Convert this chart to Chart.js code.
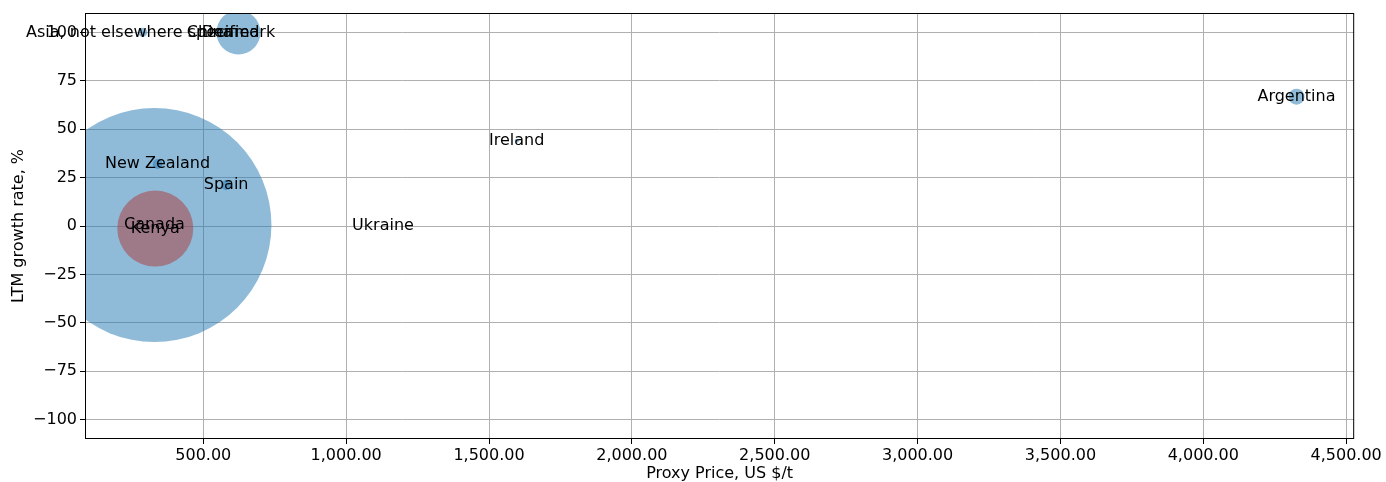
<!DOCTYPE html>
<html>
<head>
<meta charset="utf-8">
<script src="https://cdn.jsdelivr.net/npm/chart.js@4/dist/chart.umd.min.js"></script>
<style>
  html, body { margin: 0; padding: 0; background: #fff; }
  #wrap { width: 1386px; height: 482px; }
</style>
</head>
<body>
<div id="wrap"><canvas id="myChart"></canvas></div>
<script>
// data
const countries = ['Canada', 'Kenya', 'Denmark', 'China', 'Asia, not elsewhere specified',
                   'New Zealand', 'Spain', 'Ireland', 'Ukraine', 'Argentina'];
const prices = [329, 332, 623, 522, 288, 340, 580, 1597, 1129, 4326];     // US $/t
const growth = [0.5, -1.3, 100, 100, 100, 32, 21, 44, 0, 66.8];           // LTM growth, %
const volumes = [10000, 1055, 354, 0, 15, 18, 18, 3, 0, 47];              // relative trade volume
const xTicks = [500, 1000, 1500, 2000, 2500, 3000, 3500, 4000, 4500];
const yTicks = [-100, -75, -50, -25, 0, 25, 50, 75, 100];

const BLUE = 'rgba(31,119,180,0.5)';
const RED = 'rgba(173,57,57,0.5)';
const FONT = { family: '"DejaVu Sans", sans-serif', size: 16, lineHeight: 1 };

function bubbleRadius(v) {
  return 1.17 * Math.sqrt(v);
}

const points = countries.map((c, i) => ({ x: prices[i], y: growth[i], r: bubbleRadius(volumes[i]) }));
const colors = countries.map(c => c === 'Kenya' ? RED : BLUE);

// country names on the bubbles + black frame round the plot
const labelPlugin = {
  id: 'labels',
  afterDatasetsDraw(chart) {
    const ctx = chart.ctx;
    const xs = chart.scales.x, ys = chart.scales.y;
    const a = chart.chartArea;
    ctx.save();
    ctx.strokeStyle = '#000';
    ctx.lineWidth = 1;
    ctx.strokeRect(a.left + 0.5, a.top + 0.5, a.right - a.left - 1, a.bottom - a.top - 1);
    ctx.font = '16px "DejaVu Sans", sans-serif';
    ctx.fillStyle = '#000';
    ctx.textAlign = 'center';
    ctx.textBaseline = 'middle';
    countries.forEach((c, i) => {
      ctx.fillText(c, xs.getPixelForValue(prices[i]), ys.getPixelForValue(growth[i]));
    });
    ctx.restore();
  }
};

const ctx = document.getElementById('myChart');
new Chart(ctx, {
  type: 'bubble',
  data: {
    datasets: [{
      data: points,
      backgroundColor: colors,
      borderWidth: 0,
      clip: 0
    }]
  },
  options: {
    responsive: true,
    maintainAspectRatio: false,
    devicePixelRatio: 1,
    animation: false,
    events: [],
    layout: { autoPadding: false, padding: { top: 13, right: 31, left: 0, bottom: 0 } },
    plugins: { legend: { display: false }, tooltip: { enabled: false } },
    scales: {
      x: {
        type: 'linear',
        min: 86,
        max: 4528,
        afterBuildTicks: s => { s.ticks = xTicks.map(v => ({ value: v })); },
        afterFit: s => { s.height = 43; },
        grid: { color: '#b0b0b0', lineWidth: 1, tickColor: '#000', tickLength: 5 },
        border: { display: false },
        ticks: {
          color: '#000',
          font: FONT,
          padding: 4,
          maxRotation: 0,
          callback: v => v.toLocaleString('en-US', { minimumFractionDigits: 2, maximumFractionDigits: 2 })
        },
        title: { display: true, text: 'Proxy Price, US $/t', color: '#000', font: FONT, padding: 0 }
      },
      y: {
        type: 'linear',
        min: -110,
        max: 110,
        afterBuildTicks: s => { s.ticks = yTicks.map(v => ({ value: v })); },
        afterFit: s => { s.width = 85; },
        grid: { color: '#b0b0b0', lineWidth: 1, tickColor: '#000', tickLength: 5 },
        border: { display: false },
        ticks: {
          color: '#000',
          font: FONT,
          padding: 3,
          callback: v => String(v).replace('-', '\u2212')
        },
        title: { display: true, text: 'LTM growth rate, %', color: '#000', font: FONT, padding: { top: 11, bottom: 0 } }
      }
    }
  },
  plugins: [labelPlugin]
});
</script>
</body>
</html>
